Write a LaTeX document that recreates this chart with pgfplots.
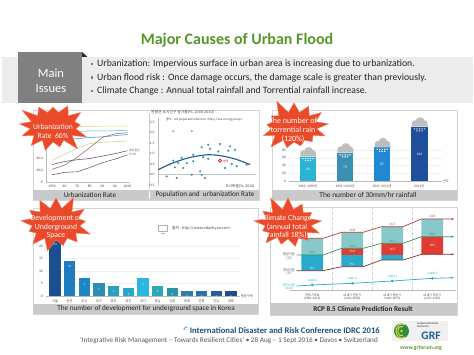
\documentclass[border=0pt]{standalone}
\usepackage{pgfplots}
\pgfplotsset{compat=1.18}
\usepackage{fontspec}
\setmainfont{Carlito}
\newfontfamily\kr{Noto Sans CJK KR}
\usetikzlibrary{shapes.symbols,arrows.meta}

\definecolor{titlegreen}{RGB}{88,150,40}
\definecolor{band}{RGB}{236,236,236}
\definecolor{boxgray}{RGB}{128,128,128}
\definecolor{burst}{RGB}{234,74,42}
\definecolor{burstedge}{RGB}{244,130,100}
\definecolor{capgray}{RGB}{202,202,202}
\definecolor{frame}{RGB}{212,212,212}
\definecolor{txt}{RGB}{35,35,35}
\definecolor{footblue}{RGB}{30,80,122}
\definecolor{c1}{RGB}{232,208,120}
\definecolor{c2}{RGB}{60,192,215}
\definecolor{c3}{RGB}{62,150,210}
\definecolor{c4}{RGB}{200,216,140}
\definecolor{c5}{RGB}{160,100,115}
\definecolor{c6}{RGB}{85,85,85}
\definecolor{c7}{RGB}{100,88,125}
\definecolor{scat}{RGB}{50,150,185}
\definecolor{arcblue}{RGB}{30,90,138}
\definecolor{r1}{RGB}{43,180,214}
\definecolor{r2}{RGB}{58,143,181}
\definecolor{r3}{RGB}{33,136,212}
\definecolor{r4}{RGB}{31,78,156}
\definecolor{cloudgray}{RGB}{190,190,190}
\definecolor{u1}{RGB}{27,79,143}
\definecolor{u2}{RGB}{30,125,192}
\definecolor{u3}{RGB}{30,134,198}
\definecolor{u4}{RGB}{42,143,179}
\definecolor{u5}{RGB}{42,160,192}
\definecolor{u6}{RGB}{40,167,201}
\definecolor{u7}{RGB}{42,184,227}
\definecolor{u8}{RGB}{41,168,184}
\definecolor{u9}{RGB}{42,147,168}
\definecolor{u10}{RGB}{45,127,176}
\definecolor{u11}{RGB}{42,111,176}
\definecolor{u12}{RGB}{35,95,159}
\definecolor{u13}{RGB}{28,78,142}
\definecolor{tealtop}{RGB}{135,200,200}
\definecolor{tealtxt}{RGB}{60,140,140}
\definecolor{cyanlow}{RGB}{41,170,204}
\definecolor{redmid}{RGB}{224,60,49}
\definecolor{maxline}{RGB}{175,65,65}
\definecolor{meanline}{RGB}{50,150,100}
\definecolor{minline}{RGB}{125,50,50}
\definecolor{rainline}{RGB}{40,170,200}
\definecolor{logogreen}{RGB}{46,140,60}
\definecolor{logoyellow}{RGB}{235,215,60}
\definecolor{logoblue}{RGB}{30,95,145}

\pgfdeclareplotmark{cloud}{%
  \pgfpathcircle{\pgfpoint{-4.4pt}{3.2pt}}{3.2pt}%
  \pgfpathcircle{\pgfpoint{0.8pt}{5pt}}{4.6pt}%
  \pgfpathcircle{\pgfpoint{5pt}{3.2pt}}{3.2pt}%
  \pgfpathrectangle{\pgfpoint{-7.6pt}{0pt}}{\pgfpoint{15.8pt}{3.2pt}}%
  \pgfusepathqfill
  \begin{pgfscope}
  \pgfsetfillcolor{white}%
  \pgfpathrectangle{\pgfpoint{-5.6pt}{-2.6pt}}{\pgfpoint{1.3pt}{1pt}}%
  \pgfpathrectangle{\pgfpoint{-3.1pt}{-2.6pt}}{\pgfpoint{1.3pt}{1pt}}%
  \pgfpathrectangle{\pgfpoint{-0.6pt}{-2.6pt}}{\pgfpoint{1.3pt}{1pt}}%
  \pgfpathrectangle{\pgfpoint{1.9pt}{-2.6pt}}{\pgfpoint{1.3pt}{1pt}}%
  \pgfpathrectangle{\pgfpoint{4.4pt}{-2.6pt}}{\pgfpoint{1.3pt}{1pt}}%
  \pgfpathrectangle{\pgfpoint{-3.1pt}{-4.6pt}}{\pgfpoint{1.3pt}{1pt}}%
  \pgfpathrectangle{\pgfpoint{-0.6pt}{-4.6pt}}{\pgfpoint{1.3pt}{1pt}}%
  \pgfpathrectangle{\pgfpoint{1.9pt}{-4.6pt}}{\pgfpoint{1.3pt}{1pt}}%
  \pgfusepathqfill
  \end{pgfscope}
}

\pgfplotsset{
  mini/.style={scale only axis, anchor=south west, clip=false,
    axis line style={-, draw=gray!55, line width=0.3pt},
    tick style={draw=none},
    tick label style={font=\fontsize{3.6}{4}\selectfont, text=gray!55!black},
    /pgf/number format/assume math mode=true},
}
\newcommand\ubar[4]{\addplot[ybar, bar width=11.5pt, bar shift=0pt, fill=#3, draw=none,
   nodes near coords={#4}, every node near coord/.style={font=\fontsize{3.2}{4}\selectfont, text=white, anchor=north, yshift=-1pt}] coordinates {(#1,#2)};}

\begin{document}
\begin{tikzpicture}
\useasboundingbox (0,0) rectangle (474pt,-355pt);
\begin{scope}[x=1pt,y=-1pt]
\fill[white] (0,0) rectangle (474,355);
% title
\node[font=\fontsize{16}{18}\selectfont\bfseries, text=titlegreen] at (237,40) {Major Causes of Urban Flood};
% band
\fill[band] (2,57) rectangle (473,103);
\fill[boxgray] (18,52) rectangle (82,103);
\fill[gray!30!black] (82,52) -- (87.5,57) -- (82,57) -- cycle;
\node[white, font=\fontsize{12.5}{15}\selectfont, align=center] at (51,80.5) {Main\\Issues};
\foreach \yy in {64,77.5,91} \fill[gray] (90.8,\yy-1.1) rectangle (93,\yy+1.1);
\node[anchor=west, font=\fontsize{9.7}{11}\selectfont, text=txt, inner sep=0pt] at (97,64) {Urbanization: Impervious surface in urban area is increasing due to urbanization.};
\node[anchor=west, font=\fontsize{9.7}{11}\selectfont, text=txt, inner sep=0pt] at (97,77.5) {Urban flood risk : Once damage occurs, the damage scale is greater than previously.};
\node[anchor=west, font=\fontsize{9.7}{11}\selectfont, text=txt, inner sep=0pt] at (97,91) {Climate Change : Annual total rainfall and Torrential rainfall increase.};
% panels
\fill[white] (33,110) rectangle (259,200); \draw[frame, line width=0.5pt] (33,110) rectangle (259,200);
\fill[capgray] (33,190) rectangle (259,200);
\draw[gray!40, line width=0.4pt] (149,113) -- (149,189);
\draw[white, line width=0.8pt] (149,191) -- (149,199);
\node[font=\fontsize{7.2}{8}\selectfont, text=txt] at (90,195) {Urbanization Rate};
\node[font=\fontsize{7.2}{8}\selectfont, text=txt] at (205,195) {Population and\ \ urbanization Rate};
\fill[white] (272,110) rectangle (457,200); \draw[frame, line width=0.5pt] (272,110) rectangle (457,200);
\fill[capgray] (272,190) rectangle (457,200);
\node[font=\fontsize{7.4}{8}\selectfont, text=txt] at (368,195) {The number of 30mm/hr rainfall};
\fill[white] (33,208) rectangle (258,314); \draw[frame, line width=0.5pt] (33,208) rectangle (258,314);
\fill[capgray] (33,304) rectangle (258,314);
\node[font=\fontsize{7.2}{8}\selectfont, text=txt] at (146,309) {The number of development for underground space in Korea};
\fill[white] (270,207) rectangle (457,315); \draw[frame, line width=0.5pt] (270,207) rectangle (457,315);
\fill[capgray] (270,303) rectangle (457,315);
\node[font=\fontsize{7.2}{8}\selectfont\bfseries, text=txt] at (363,309) {RCP 8.5 Climate Prediction Result};
% P2 texts
\node[anchor=west, font=\kr\fontsize{3.8}{4}\selectfont, text=gray!50!black, inner sep=0pt] at (151,112.8) {연평균 도시인구 증가율(\%, 2000-2010)};
\node[anchor=west, font=\kr\fontsize{3}{4}\selectfont, text=gray!50!black, inner sep=0pt] at (166,119.5) {출처 : UN population division <http://esa.un.org/unup>};
\node[font=\kr\fontsize{3.6}{4}\selectfont, text=gray!50!black] at (240,186) {도시화율(\%, 2010)};
% P4 source
\draw[gray!60, line width=0.4pt] (158,225) rectangle (167,231); \draw[gray!60, line width=0.4pt] (160.5,233) -- (164.5,233);
\node[anchor=west, font=\kr\fontsize{3.8}{4}\selectfont, text=gray!50!black, inner sep=0pt] at (172,228) {출처 : http://www.edachyun.com};
% P5 left labels
\node[align=center, font=\kr\fontsize{3.2}{3.8}\selectfont, text=gray!40!black] at (289,256.5) {평균기온\\(℃)};
\node[align=center, font=\kr\fontsize{3.2}{3.8}\selectfont, text=gray!40!black] at (289,272) {최저기온\\(℃)};
\node[align=center, font=\kr\fontsize{3.2}{3.8}\selectfont, text=rainline] at (289,287) {연강수량\\(mm)};
% footer
\node[anchor=east, font=\fontsize{8.6}{10}\selectfont\bfseries, text=footblue, inner sep=0pt] at (380,330) {\raisebox{2.5pt}{\fontsize{3.5}{4}\selectfont 5\textsuperscript{th}}\ International Disaster and Risk Conference IDRC 2016};
\node[anchor=east, font=\fontsize{7.2}{8}\selectfont, text=gray!70!black, inner sep=0pt] at (378,340.5) {'Integrative Risk Management – Towards Resilient Cities' • 28 Aug – 1 Sept 2016 • Davos • Switzerland};
\fill[gray!12] (392,321) rectangle (448,341);
\fill[logogreen] (401.5,331) circle (7.5);
\draw[logoyellow, line width=1pt] (403,327) arc (-60:-300:3.5 and 4.6) ;
\draw[logoyellow, line width=0.9pt] (405,325) arc (-60:-300:6 and 7);
\fill[logoyellow] (401.5,331) circle (1.3);
\node[anchor=west, font=\fontsize{2.4}{2.8}\selectfont\bfseries, text=gray!60!black, align=left, inner sep=0pt] at (417,325.5) {GLOBAL RISK FORUM\\GRF DAVOS};
\node[font=\fontsize{11.5}{12}\selectfont\bfseries, text=logoblue] at (431,335.5) {GRF};
\node[font=\fontsize{5.6}{6}\selectfont\bfseries, text=titlegreen] at (421,348) {www.grforum.org};
\end{scope}

% ===== P1 urbanization rate =====
\begin{axis}[mini, at={(46.3pt,-182pt)}, width=83.7pt, height=68pt,
  xmin=1945.5, xmax=2012, ymin=0, ymax=113,
  axis x line*=bottom, axis y line*=left,
  xtick={1950,1960,...,2010}, xticklabels={1950,60,70,80,90,00,2010},
  ytick={0,20,40}, yticklabels={0,20.0,40.0},
  every axis plot/.append style={line width=0.55pt, mark=none}]
\addplot[c1] coordinates {(1950,89)(1960,91)(1970,92)(1980,92)(1990,93)(2000,93)(2010,93)};
\addplot[c2] coordinates {(1950,78)(1960,82)(1970,84)(1980,85)(1990,85)(2000,85)(2010,86)};
\addplot[c3] coordinates {(1950,68)(1960,71)(1970,72)(1980,74)(1990,75)(2000,77)(2010,79)};
\addplot[c4] coordinates {(1950,36)(1960,46)(1970,56)(1980,64)(1990,66)(2000,67)(2010,68)};
\addplot[c5] coordinates {(1950,21)(1960,28)(1970,41)(1980,57)(1990,74)(2000,80)(2010,82)};
\addplot[c6] coordinates {(1950,29)(1960,34)(1970,37)(1980,39)(1990,43)(2000,47)(2010,52)};
\addplot[c7] coordinates {(1950,12)(1960,16)(1970,17)(1980,24)(1990,32)(2000,38)(2010,45)};
\node[anchor=west, font=\kr\fontsize{2.8}{3}\selectfont, text=c6, inner sep=0.5pt] at (axis cs:2010.5,53) {세계 평균};
\node[anchor=west, font=\kr\fontsize{2.8}{3}\selectfont, text=c7, inner sep=0.5pt] at (axis cs:2010.5,46) {아시아};
\end{axis}

% ===== P2 scatter =====
\begin{axis}[mini, at={(158pt,-185pt)}, width=98pt, height=67.2pt,
  xmin=0, xmax=100, ymin=-0.5, ymax=2.7,
  axis y line*=left, axis x line=none, xtick=\empty,
  ytick={-0.5,0,0.5,1,1.5,2,2.5}, yticklabels={-0.5,0.0,0.5,1.0,1.5,2.0,2.5}]
\addplot[gray!45, line width=0.3pt] coordinates {(0,0)(100,0)};
\addplot[arcblue, line width=1.1pt, smooth] coordinates {(0.3,0.23)(10,0.45)(20,0.63)(30,0.78)(40,0.88)(51,0.94)(60,0.92)(70,0.84)(80,0.72)(88,0.58)(94,0.47)};
\addplot[only marks, mark=*, mark size=0.85pt, gray!70] coordinates {(15.6,2.06)(34.4,2.06)};
\addplot[only marks, mark=*, mark size=0.85pt, scat] coordinates {
 (51.3,1.42)(63.3,1.45)(73.5,1.34)(44.6,1.30)(53.1,1.23)(61.5,1.10)(71.7,1.13)(78.6,1.18)
 (36.0,0.94)(46.2,0.82)(51.3,0.75)(24.2,0.79)(15.6,0.66)(20.7,0.55)(29.3,0.55)(36.0,0.63)
 (12.2,0.47)(17.3,0.34)(25.8,0.31)(68.4,0.31)(75.2,0.50)(80.3,0.39)(90.5,0.47)
 (42.9,0.15)(44.6,-0.01)(48.0,-0.17)(34.4,-0.01)(8.9,-0.09)(19.1,-0.17)};
\addplot[only marks, mark=*, mark size=1.5pt, mark options={fill=white, draw=red, line width=0.7pt}] coordinates {(63.3,0.66)};
\node[anchor=west, font=\kr\fontsize{2.8}{3}\selectfont, text=red!70!black, inner sep=0.5pt] at (axis cs:66,0.62) {한국};
\end{axis}

% ===== P3 rainfall bars =====
\begin{axis}[mini, at={(289.3pt,-181pt)}, width=152.4pt, height=62pt,
  xmin=0.5, xmax=4.6, ymin=0, ymax=160,
  axis x line*=bottom, axis y line*=left, y axis line style={draw=none},
  ytick={0,20,...,80}, ymajorgrids, grid style={gray!12, line width=0.3pt},
  xtick={1,2,3,4}, xticklabels={1981\textasciitilde1990년,1991\textasciitilde2000년,2001\textasciitilde2010년,2011년},
  xticklabel style={font=\kr\fontsize{3.2}{4}\selectfont}]
\addplot[ybar, bar width=16.5pt, bar shift=0pt, fill=r1, draw=none] coordinates {(1,63)};
\addplot[ybar, bar width=16.5pt, bar shift=0pt, fill=r2, draw=none] coordinates {(2,73)};
\addplot[ybar, bar width=16.5pt, bar shift=0pt, fill=r3, draw=none] coordinates {(3,87)};
\addplot[ybar, bar width=16.5pt, bar shift=0pt, fill=r4, draw=none] coordinates {(4,140)};
\addplot[only marks, mark=cloud, mark options={fill=cloudgray, draw=none}] coordinates {(1,63)(2,73)(3,87)(4,140)};
\addplot[draw=none, nodes near coords, point meta=explicit symbolic,
  every node near coord/.style={font=\fontsize{3.6}{4}\selectfont, text=white, anchor=center}]
  coordinates {(1,30)[63] (2,35)[73] (3,42)[87] (4,68)[140]};
\node[anchor=west, font=\kr\fontsize{3.2}{4}\selectfont, text=gray!55!black, inner sep=1pt] at (axis cs:4.6,0) {년도};
\end{axis}

% ===== P4 underground bars =====
\begin{axis}[mini, at={(46.2pt,-296pt)}, width=193.6pt, height=67.5pt,
  xmin=0.4, xmax=13.6, ymin=0, ymax=27,
  axis x line*=bottom, axis y line*=left, y axis line style={draw=none},
  ytick={0,5,...,20}, ymajorgrids, grid style={gray!12, line width=0.3pt},
  xtick={1,...,13}, xticklabels={서울,인천,부산,대구,광주,대전,경기,충남,강원,충북,전북,전남,경북},
  xticklabel style={font=\kr\fontsize{3.2}{4}\selectfont}]
\ubar{1}{23}{u1}{23}
\ubar{2}{14}{u2}{14}
\ubar{3}{7}{u3}{7}
\ubar{4}{5}{u4}{5}
\ubar{5}{4}{u5}{4}
\ubar{6}{3}{u6}{3}
\ubar{7}{7}{u7}{7}
\ubar{8}{4}{u8}{4}
\ubar{9}{3}{u9}{3}
\ubar{10}{2}{u10}{2}
\ubar{11}{2}{u11}{2}
\ubar{12}{2}{u12}{2}
\ubar{13}{2}{u13}{2}
\node[anchor=west, font=\kr\fontsize{3.2}{4}\selectfont, text=gray!55!black, inner sep=1pt] at (axis cs:13.6,0) {행정구역};
\end{axis}

% ===== P5 RCP 8.5 =====
\begin{axis}[mini, at={(290.3pt,-290pt)}, width=166pt, height=83pt,
  xmin=0.45, xmax=4.6, ymin=2.5, ymax=27.4, axis lines=none,
  ybar stacked, bar width=21.7pt]
\addplot[fill=none, draw=none] coordinates {(1,8.3)(2,9.5)(3,11.5)(4,13.2)};
\addplot[fill=cyanlow, draw=none] coordinates {(1,4.7)(2,3.5)(3,1.5)(4,0)};
\addplot[fill=redmid, draw=none] coordinates {(1,0)(2,2.0)(3,3.5)(4,5.3)};
\addplot[fill=tealtop, draw=none] coordinates {(1,5.0)(2,4.8)(3,5.0)(4,5.3)};
\end{axis}
\begin{axis}[mini, at={(290.3pt,-290pt)}, width=166pt, height=83pt,
  xmin=0.45, xmax=4.6, ymin=2.5, ymax=27.4,
  axis x line*=bottom, axis y line=none, ytick=\empty,
  xtick={1.5,2.5,3.5}, xticklabels={}, xmajorgrids, grid style={densely dashed, gray!35, line width=0.3pt},
  extra x ticks={1,2,3,4},
  extra x tick labels={{현재 기후값\\(1981-2010)},{21세기 전반기\\(2011-2040)},{21세기 중반기\\(2041-2070)},{21세기 후반기\\(2071-2100)}},
  extra x tick style={grid=none, tick label style={align=center, font=\kr\fontsize{3}{3.6}\selectfont}}]
\addplot[maxline, line width=0.7pt, -{Stealth[length=2.5pt,width=2.2pt]}] coordinates {(0.61,18.0)(1.27,18.0)(1.73,19.8)(2.27,19.8)(2.73,21.5)(3.27,21.5)(3.73,23.8)(4.54,23.8)};
\addplot[meanline, line width=0.7pt, -{Stealth[length=2.5pt,width=2.2pt]}] coordinates {(0.61,13.0)(1.27,13.0)(1.73,15.0)(2.27,15.0)(2.73,16.5)(3.27,16.5)(3.73,18.5)(4.54,18.5)};
\addplot[minline, line width=0.7pt, -{Stealth[length=2.5pt,width=2.2pt]}] coordinates {(0.61,8.3)(1.27,8.3)(1.73,9.5)(2.27,9.5)(2.73,11.5)(3.27,11.5)(3.73,13.2)(4.54,13.2)};
\addplot[rainline, line width=0.7pt, -{Stealth[length=2.5pt,width=2.2pt]}] coordinates {(0.61,3.7)(1,4.0)(2,4.5)(3,5.2)(4,6.0)(4.54,6.2)};
\addplot[rainline, only marks, mark=*, mark size=1.1pt, nodes near coords, point meta=explicit symbolic,
  every node near coord/.style={font=\fontsize{3.3}{4}\selectfont, text=rainline}]
  coordinates {(1,4.0)[1{,}164.2] (2,4.5)[1{,}207.1] (3,5.2)[1{,}263.1] (4,6.0)[1{,}366.5]};
\addplot[draw=none, nodes near coords, point meta=explicit symbolic,
  every node near coord/.style={font=\fontsize{3.4}{4}\selectfont, text=maxline, anchor=south, inner sep=0.8pt}]
  coordinates {(2,19.8)[19.8] (3,21.5)[21.5] (4,23.8)[23.8]};
\addplot[draw=none, nodes near coords, point meta=explicit symbolic,
  every node near coord/.style={font=\fontsize{3.4}{4}\selectfont, text=tealtxt, anchor=south, inner sep=1pt}]
  coordinates {(1,13.0)[13.0] (2,15.0)[15.0] (3,16.5)[16.5] (4,18.5)[18.5]};
\addplot[draw=none, nodes near coords, point meta=explicit symbolic,
  every node near coord/.style={font=\fontsize{3.4}{4}\selectfont, text=white, anchor=center}]
  coordinates {(2,14.0)[15.0] (3,14.75)[16.5] (4,15.85)[18.5]};
\addplot[draw=none, nodes near coords, point meta=explicit symbolic,
  every node near coord/.style={font=\fontsize{3.4}{4}\selectfont, text=white, anchor=south, inner sep=0.6pt}]
  coordinates {(1,8.3)[8.3] (2,9.5)[9.5]};
\end{axis}

% ===== bursts =====
\begin{scope}[x=1pt,y=-1pt]
\tikzset{burstst/.style={starburst, starburst points=13, fill=burst, draw=burstedge, line width=0.4pt, inner sep=0pt}}
\node[burstst, starburst point height=15pt, random starburst=3, minimum width=76pt, minimum height=60pt] at (53,127) {};
\node[font=\fontsize{7.6}{8.6}\selectfont, text=white, align=center] at (53,131.5) {Urbanization\\Rate\ \ 60\%};
\node[burstst, starburst point height=15pt, random starburst=5, minimum width=76pt, minimum height=60pt] at (294,127) {};
\node[font=\fontsize{8}{9}\selectfont, text=white, align=center] at (293,130) {The number of\\torrential rain\\(120\%)};
\node[burstst, starburst point height=15pt, random starburst=8, minimum width=78pt, minimum height=62pt] at (56,224) {};
\node[font=\fontsize{7.8}{8.4}\selectfont, text=white, align=center] at (56,227) {Development of\\Underground\\Space};
\node[burstst, starburst point height=15pt, random starburst=11, minimum width=76pt, minimum height=60pt] at (288,224) {};
\node[font=\fontsize{7.8}{8.4}\selectfont, text=white, align=center] at (287,227) {Climate Change\\(annual total\\rainfall 18\%)};
\end{scope}
\end{tikzpicture}
\end{document}
